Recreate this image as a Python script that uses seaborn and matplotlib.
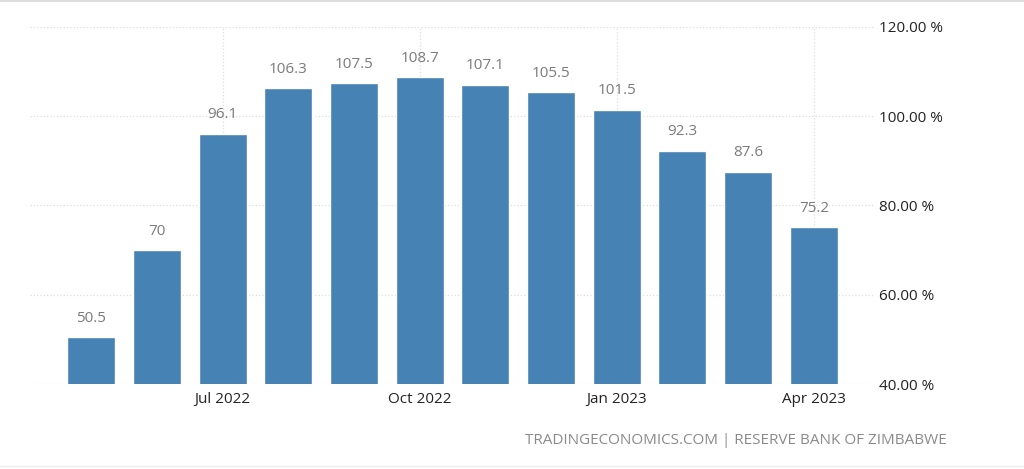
import matplotlib.pyplot as plt
import seaborn as sns
import pandas as pd

# Zimbabwe inflation rate, monthly
months = ["May 2022", "Jun 2022", "Jul 2022", "Aug 2022", "Sep 2022", "Oct 2022",
          "Nov 2022", "Dec 2022", "Jan 2023", "Feb 2023", "Mar 2023", "Apr 2023"]
values = [50.5, 70, 96.1, 106.3, 107.5, 108.7, 107.1, 105.5, 101.5, 92.3, 87.6, 75.2]
value_labels = ["50.5", "70", "96.1", "106.3", "107.5", "108.7",
                "107.1", "105.5", "101.5", "92.3", "87.6", "75.2"]
shown_ticks = ["Jul 2022", "Oct 2022", "Jan 2023", "Apr 2023"]
y_ticks = [40, 60, 80, 100, 120]

df = pd.DataFrame({"month": months, "value": values})

sns.set_style("white")
plt.rcParams["font.family"] = ["Open Sans", "DejaVu Sans"]

fig = plt.figure(figsize=(10.24, 4.69), dpi=100)
ax = fig.add_axes([30 / 1024, 1 - 384 / 469, 845 / 1024, 357 / 469])

sns.barplot(data=df, x="month", y="value", color="#4682b4", saturation=1,
            width=0.73, ax=ax, zorder=3)

for i, (v, lab) in enumerate(zip(values, value_labels)):
    ax.text(i, v + 2.5, lab, ha="center", va="bottom", fontsize=11, color="#7b7b7b")

ax.set_ylim(40, 120)
ax.set_xlim(-0.93, 11.93)
ax.set_yticks(y_ticks)
ax.set_yticklabels([f"{t:.2f} %" for t in y_ticks])
ax.yaxis.tick_right()
xt = [months.index(m) for m in shown_ticks]
ax.set_xticks(xt)
ax.set_xticklabels(shown_ticks)
ax.tick_params(axis="both", length=0, labelsize=11, colors="#222222")
ax.tick_params(axis="y", pad=3)
ax.tick_params(axis="x", pad=6)
ax.set_xlabel("")
ax.set_ylabel("")
ax.grid(True, color="#dddddd", linestyle=":", linewidth=0.9, zorder=0)
for s in ax.spines.values():
    s.set_visible(False)

fig.text(947 / 1024, 1 - 440 / 469, "TRADINGECONOMICS.COM | RESERVE BANK OF ZIMBABWE",
         ha="right", va="center", fontsize=11, color="#8a8a8a")

# thin frame lines at top and bottom of the image
fig.add_artist(plt.Line2D([0, 1], [0.998, 0.998], color="#dddddd", linewidth=1.5))
fig.add_artist(plt.Line2D([0, 1], [1 - 466 / 469, 1 - 466 / 469], color="#eeeeee", linewidth=1))

plt.savefig("out.png", dpi=100)
